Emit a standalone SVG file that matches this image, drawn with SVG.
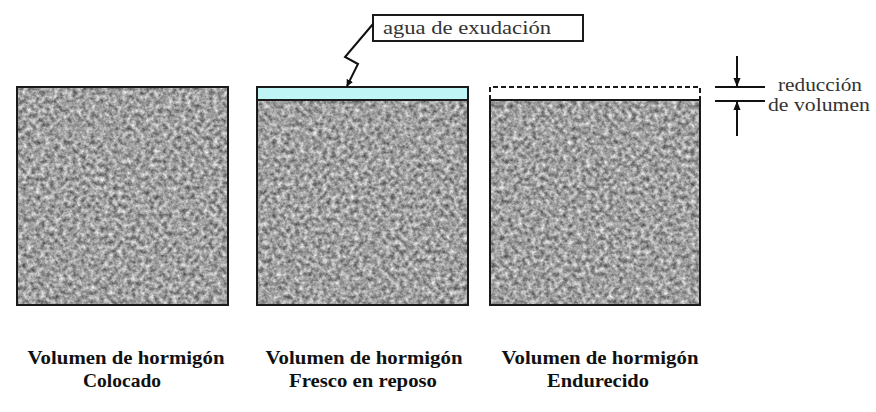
<svg xmlns="http://www.w3.org/2000/svg" width="876" height="412" viewBox="0 0 876 412">
<style>
.box{fill:none;stroke:#1a1a1a;stroke-width:2}
.conc{filter:url(#concrete)}
.lbl{font-family:"Liberation Serif","Times New Roman",serif;font-weight:bold;font-size:18px;fill:#111;text-anchor:middle}
.txt{font-family:"Liberation Serif","Times New Roman",serif;font-size:19px;fill:#333}
.ln{stroke:#111;stroke-width:2;fill:none}
</style>
<defs>
<filter id="concrete" x="0" y="0" width="1" height="1" color-interpolation-filters="sRGB">
<feTurbulence type="fractalNoise" baseFrequency="0.22" numOctaves="3" seed="7" result="n"/>
<feColorMatrix in="n" type="matrix" values="0.85 0 0 0 0.2  0.85 0 0 0 0.2  0.85 0 0 0 0.2  0 0 0 0 1" result="g"/>
<feGaussianBlur in="g" stdDeviation="0.5"/>
</filter>
<marker id="ah" viewBox="0 0 10 10" refX="9" refY="5" markerWidth="7" markerHeight="7" orient="auto" markerUnits="userSpaceOnUse">
<path d="M0,0 L10,5 L0,10 z" fill="#111"/>
</marker>
<marker id="ah2" viewBox="0 0 10 10" refX="9" refY="5" markerWidth="9" markerHeight="9" orient="auto" markerUnits="userSpaceOnUse">
<path d="M0,1 L10,5 L0,9 z" fill="#111"/>
</marker>
</defs>
<rect width="876" height="412" fill="#fff"/>

<g id="node-colocado">
<rect class="conc" x="17" y="87" width="211" height="218"/>
<rect class="box" x="17" y="87" width="211" height="218"/>
<text class="lbl" x="126" y="364" textLength="197" lengthAdjust="spacingAndGlyphs">Volumen de hormigón</text>
<text class="lbl" x="122" y="387" textLength="78" lengthAdjust="spacingAndGlyphs">Colocado</text>
</g>

<g id="node-fresco">
<rect class="conc" x="257" y="100" width="211" height="205"/>
<rect x="257" y="87" width="211" height="13" fill="#bff5f5" stroke="#1a1a1a" stroke-width="2"/>
<rect class="box" x="257" y="100" width="211" height="205"/>
<text class="lbl" x="364" y="364" textLength="197" lengthAdjust="spacingAndGlyphs">Volumen de hormigón</text>
<text class="lbl" x="363" y="387" textLength="148" lengthAdjust="spacingAndGlyphs">Fresco en reposo</text>
</g>

<g id="node-endurecido">
<rect class="conc" x="490" y="100" width="210" height="205"/>
<rect class="box" x="490" y="100" width="210" height="205"/>
<path d="M490,100 V87 H700 V100" fill="none" stroke="#1a1a1a" stroke-width="2" stroke-dasharray="5,3"/>
<text class="lbl" x="600" y="364" textLength="197" lengthAdjust="spacingAndGlyphs">Volumen de hormigón</text>
<text class="lbl" x="598" y="387" textLength="102" lengthAdjust="spacingAndGlyphs">Endurecido</text>
</g>

<g id="node-agua">
<rect x="373" y="15" width="210" height="26" fill="#fff" stroke="#1a1a1a" stroke-width="2"/>
<text class="txt" x="383" y="34" textLength="168" lengthAdjust="spacingAndGlyphs">agua de exudación</text>
</g>

<g id="node-reduccion">
<text class="txt" x="778" y="91" textLength="84" lengthAdjust="spacingAndGlyphs">reducción</text>
<text class="txt" x="768" y="111" textLength="102" lengthAdjust="spacingAndGlyphs">de volumen</text>
</g>

<g id="connectors">
<polyline class="ln" points="373,24 345,57 358,64 347,86" marker-end="url(#ah)"/>
<line class="ln" x1="715" y1="87" x2="765" y2="87"/>
<line class="ln" x1="715" y1="101" x2="765" y2="101"/>
<line class="ln" x1="737" y1="56" x2="737" y2="86" marker-end="url(#ah2)"/>
<line class="ln" x1="737" y1="136" x2="737" y2="102" marker-end="url(#ah2)"/>
</g>
</svg>
